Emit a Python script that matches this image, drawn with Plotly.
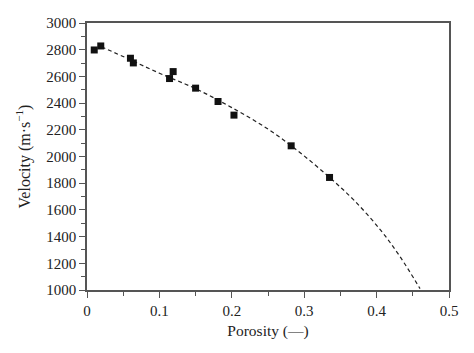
import plotly.graph_objects as go

# measured data points
porosity = [0.010, 0.019, 0.060, 0.064, 0.114, 0.119, 0.150, 0.181, 0.203, 0.282, 0.335]
velocity = [2798, 2828, 2736, 2701, 2584, 2636, 2512, 2412, 2310, 2080, 1843]

# dashed fitted curve
curve_x = [0.020, 0.060, 0.100, 0.150, 0.200, 0.250, 0.294, 0.335, 0.368, 0.405, 0.432, 0.460]
curve_y = [2822, 2724, 2624, 2508, 2366, 2205, 2030, 1843, 1677, 1452, 1253, 1010]

x_ticks = [0, 0.1, 0.2, 0.3, 0.4, 0.5]
x_tick_labels = ["0", "0.1", "0.2", "0.3", "0.4", "0.5"]
y_ticks = [1000, 1200, 1400, 1600, 1800, 2000, 2200, 2400, 2600, 2800, 3000]

FONT = "Liberation Serif"
AX = "#555555"

fig = go.Figure()
fig.add_trace(go.Scatter(
    x=curve_x, y=curve_y, mode="lines", line_shape="spline",
    line=dict(color="#222222", width=1.2, dash="4px,3px"),
    showlegend=False, hoverinfo="skip"))
fig.add_trace(go.Scatter(
    x=porosity, y=velocity, mode="markers",
    marker=dict(symbol="square", size=7, color="#111111"),
    showlegend=False))

fig.update_layout(
    width=474, height=353,
    margin=dict(l=87, r=25, t=23, b=63),
    paper_bgcolor="white", plot_bgcolor="white",
    font=dict(family=FONT, size=15, color="#222222"),
    xaxis=dict(
        range=[0, 0.5], tickvals=x_ticks, ticktext=x_tick_labels,
        showgrid=False, zeroline=False,
        showline=True, linecolor=AX, linewidth=1.5, mirror=True,
        ticks="outside", ticklen=6, tickwidth=1.2, tickcolor=AX,
        minor=dict(dtick=0.05, ticks="outside", ticklen=4, tickwidth=1.2, tickcolor=AX, showgrid=False),
        title=dict(text="Porosity (—)", standoff=7, font=dict(family=FONT, size=15.5)),
        tickfont=dict(family=FONT, size=15),
    ),
    yaxis=dict(
        range=[1000, 3000], tickvals=y_ticks,
        showgrid=False, zeroline=False,
        showline=True, linecolor=AX, linewidth=1.5, mirror=True,
        ticks="outside", ticklen=6, tickwidth=1.2, tickcolor=AX,
        minor=dict(dtick=100, ticks="outside", ticklen=4, tickwidth=1.2, tickcolor=AX, showgrid=False),
        title=dict(text="Velocity (m·s<sup>−1</sup>)", standoff=12, font=dict(family=FONT, size=16)),
        tickfont=dict(family=FONT, size=15),
    ),
)

fig.write_html("out.html")
